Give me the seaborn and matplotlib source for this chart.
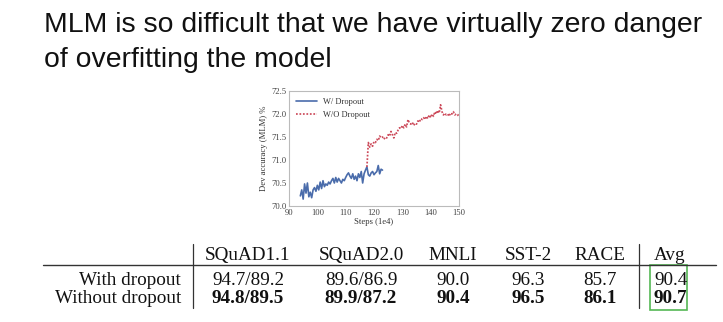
import matplotlib
matplotlib.use("Agg")
import matplotlib.pyplot as plt
import seaborn as sns
import pandas as pd
from matplotlib.patches import Rectangle
from matplotlib.lines import Line2D

# ---------------- data ----------------
steps_dropout = [94.0, 94.5, 95.0, 95.5, 96.0, 96.5, 97.0, 97.5, 98.0, 98.5, 99.0, 99.5,
                 100.0, 100.5, 101.0, 101.5, 102.0, 102.5, 103.0, 103.5, 104.0, 104.5,
                 105.0, 105.5, 106.0, 106.5, 107.0, 107.5, 108.0, 108.5, 109.0, 109.5,
                 110.0, 110.5, 111.0, 111.5, 112.0, 112.5, 113.0, 113.5, 114.0, 114.5,
                 115.0, 115.5, 116.0, 116.5, 117.0, 117.5, 118.0, 118.5, 119.0, 119.5,
                 120.0, 120.5, 121.0, 121.5, 122.0, 122.5, 123.0]
acc_dropout = [70.22, 70.35, 70.15, 70.48, 70.28, 70.50, 70.20, 70.30, 70.18, 70.35, 70.40, 70.32,
               70.45, 70.35, 70.52, 70.38, 70.55, 70.42, 70.48, 70.45, 70.52, 70.48,
               70.55, 70.60, 70.50, 70.62, 70.52, 70.60, 70.55, 70.50, 70.58, 70.55,
               70.62, 70.68, 70.72, 70.65, 70.60, 70.70, 70.58, 70.65, 70.55, 70.70,
               70.62, 70.75, 70.50, 70.70, 70.78, 70.85, 70.68, 70.65, 70.72, 70.75,
               70.68, 70.72, 70.75, 70.88, 70.70, 70.80, 70.78]

steps_no_dropout = [117.5, 118.0, 118.5, 119.0, 119.5, 120.0, 120.5, 121.0, 121.5, 122.0,
                    122.5, 123.0, 123.5, 124.0, 124.5, 125.0, 125.5, 126.0, 126.5, 127.0,
                    127.5, 128.0, 128.5, 129.0, 129.5, 130.0, 130.5, 131.0, 131.5, 132.0,
                    132.5, 133.0, 133.5, 134.0, 134.5, 135.0, 135.5, 136.0, 136.5, 137.0,
                    137.5, 138.0, 138.5, 139.0, 139.5, 140.0, 140.5, 141.0, 141.5, 142.0,
                    142.5, 143.0, 143.5, 144.0, 144.5, 145.0, 145.5, 146.0, 146.5, 147.0,
                    147.5, 148.0, 148.5, 149.0, 149.5, 150.0]
acc_no_dropout = [70.85, 71.38, 71.28, 71.35, 71.30, 71.40, 71.38, 71.45, 71.42, 71.52,
                  71.48, 71.50, 71.45, 71.50, 71.48, 71.55, 71.52, 71.62, 71.55, 71.48,
                  71.60, 71.58, 71.65, 71.70, 71.68, 71.75, 71.70, 71.78, 71.72, 71.88,
                  71.80, 71.78, 71.82, 71.75, 71.80, 71.78, 71.85, 71.82, 71.90, 71.88,
                  71.92, 71.88, 71.95, 71.90, 71.98, 71.92, 72.00, 71.95, 72.05, 72.00,
                  72.08, 72.02, 72.20, 72.05, 71.98, 72.02, 71.98, 72.00, 71.95, 72.02,
                  72.00, 72.05, 71.98, 72.00, 71.97, 72.00]

x_ticks = [90, 100, 110, 120, 130, 140, 150]
y_ticks = [70.0, 70.5, 71.0, 71.5, 72.0, 72.5]

title_lines = ["MLM is so difficult that we have virtually zero danger",
               "of overfitting the model"]

table_columns = ["SQuAD1.1", "SQuAD2.0", "MNLI", "SST-2", "RACE", "Avg"]
row_labels = ["With dropout", "Without dropout"]
with_dropout_vals = ["94.7/89.2", "89.6/86.9", "90.0", "96.3", "85.7", "90.4"]
without_dropout_vals = ["94.8/89.5", "89.9/87.2", "90.4", "96.5", "86.1", "90.7"]

# ---------------- figure ----------------
sns.set_theme(style="white")
plt.rcParams["font.family"] = ["Liberation Serif", "DejaVu Serif"]

W, H = 723, 322
fig = plt.figure(figsize=(W / 100, H / 100), dpi=100)
fig.patch.set_facecolor("white")


def fx(px):
    return px / W


def fy(py):
    return 1 - py / H


# title
for i, line in enumerate(title_lines):
    fig.text(fx(44), fy(32 + 35 * i), line, family=["Liberation Sans", "DejaVu Sans"],
             fontsize=20.4, color="#111111", ha="left", va="baseline")

# line chart
ax = fig.add_axes([fx(289), fy(206), fx(459) - fx(289), (206 - 91) / H])
df_d = pd.DataFrame({"step": steps_dropout, "acc": acc_dropout})
df_n = pd.DataFrame({"step": steps_no_dropout, "acc": acc_no_dropout})
blue = "#4a6cab"
red = "#cc4a5a"
sns.lineplot(data=df_d, x="step", y="acc", ax=ax, color=blue, lw=1.2, label="W/ Dropout")
sns.lineplot(data=df_n, x="step", y="acc", ax=ax, color=red, lw=1.25, ls=(0, (1, 1)),
             label="W/O Dropout")
ax.set_xlim(90, 150)
ax.set_ylim(70.0, 72.5)
ax.set_xticks(x_ticks)
ax.set_yticks(y_ticks)
ax.set_yticklabels([f"{v:.1f}" for v in y_ticks])
ax.tick_params(axis="both", length=0, labelsize=6.2, colors="#444444", pad=2)
ax.set_xlabel("Steps (1e4)", fontsize=6.2, color="#333333", labelpad=1)
ax.set_ylabel("Dev accuracy (MLM) %", fontsize=6.2, color="#333333", labelpad=2)
for s in ax.spines.values():
    s.set_color("#bbbbbb")
    s.set_linewidth(0.8)
leg = ax.legend(loc="upper left", frameon=False, fontsize=6, handlelength=2.6,
                handletextpad=0.7, borderaxespad=0.4, labelspacing=0.6)
for t in leg.get_texts():
    t.set_color("#333333")

# table
font_t = 13.8
col_x = [248, 361, 453, 528, 600, 654]
header_y = 260
row_y = [285, 303]
for cx, c in zip(col_x, table_columns):
    fig.text(fx(cx), fy(header_y), c, fontsize=font_t, ha="center" if c != "Avg" else "left",
             va="baseline", color="#111111")
for ry, lab, vals, bold in zip(row_y, row_labels,
                               [with_dropout_vals, without_dropout_vals], [False, True]):
    fig.text(fx(181), fy(ry), lab, fontsize=font_t, ha="right", va="baseline", color="#111111")
    for cx, v, c in zip(col_x, vals, table_columns):
        fig.text(fx(cx), fy(ry), v, fontsize=font_t, ha="center" if c != "Avg" else "left",
                 va="baseline", color="#111111", fontweight="bold" if bold else "normal")

fig.add_artist(Line2D([fx(43), fx(716)], [fy(265), fy(265)], color="#333333", lw=1.0))
for vx in (193, 639):
    fig.add_artist(Line2D([fx(vx), fx(vx)], [fy(244), fy(308)], color="#333333", lw=0.9))
fig.add_artist(Rectangle((fx(650), fy(310)), fx(687) - fx(650), (310 - 265) / H,
                         fill=False, edgecolor="#55b855", lw=1.2))

fig.savefig("out.png", dpi=100, facecolor="white")
